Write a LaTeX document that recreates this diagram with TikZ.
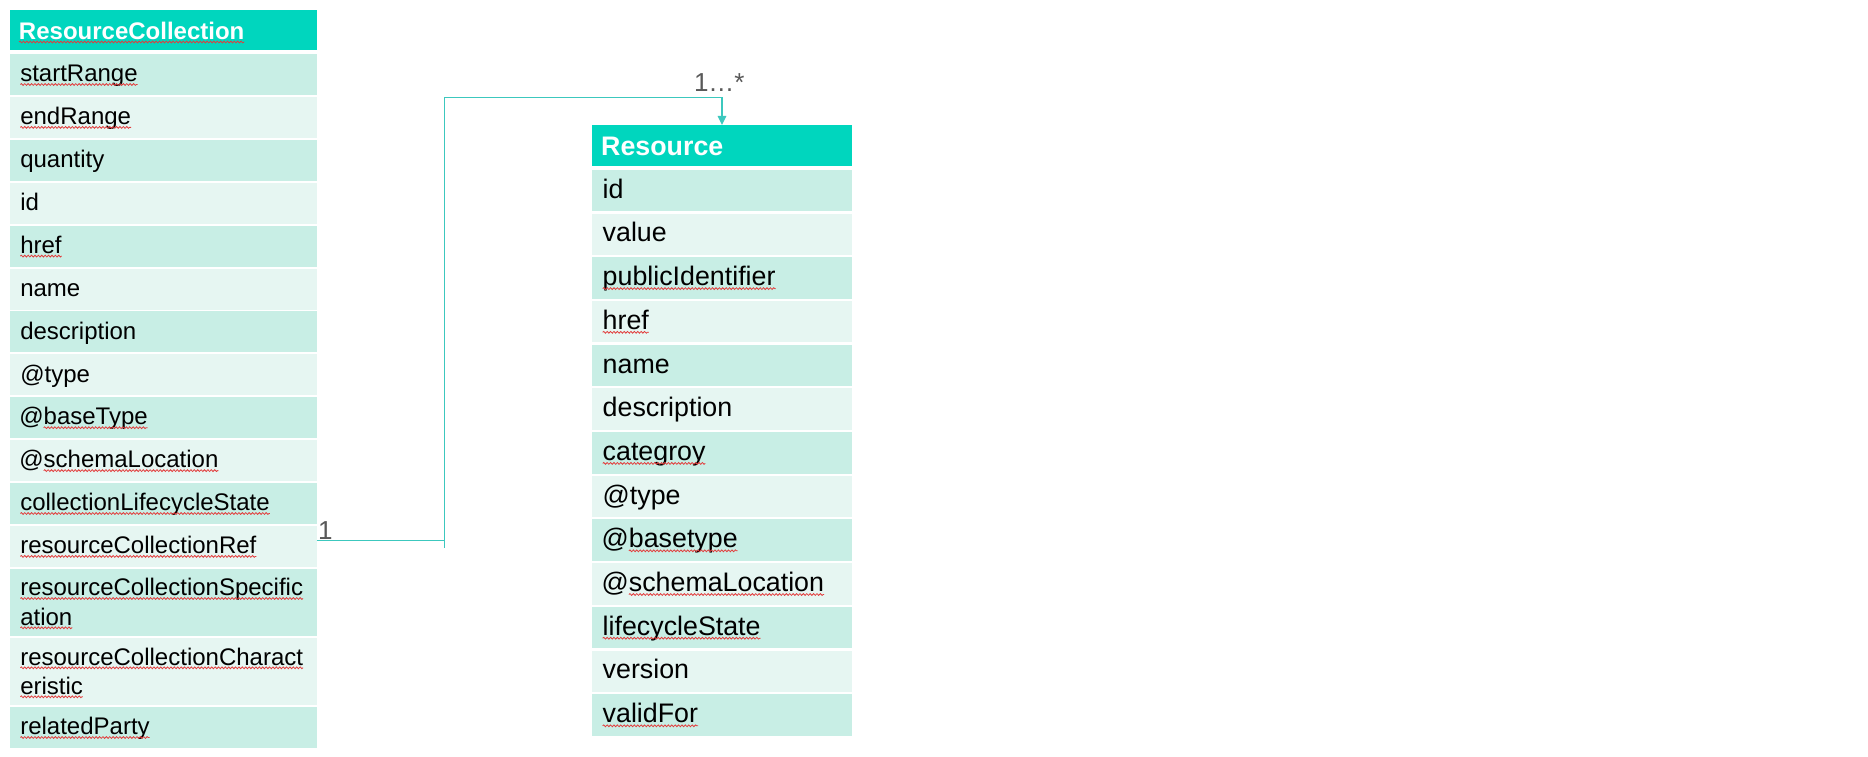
\documentclass[tikz,border=0pt]{standalone}
\usepackage{fontspec}
\setmainfont{Liberation Sans}
\usetikzlibrary{arrows.meta,decorations.pathmorphing}
\definecolor{headc}{RGB}{0,214,190}
\definecolor{darkrow}{RGB}{200,238,229}
\definecolor{lightrow}{RGB}{230,246,242}
\definecolor{linec}{RGB}{60,200,190}
\definecolor{labelc}{RGB}{89,89,89}
\definecolor{squigc}{RGB}{226,60,60}
\tikzset{
  rowbox/.style={anchor=north west, inner sep=0pt, outer sep=0pt, draw=none},
  txt/.style={inner sep=0pt, outer sep=0pt, anchor=base west, text=black},
  headtxt/.style={inner sep=0pt, outer sep=0pt, anchor=base west, text=white},
  squig/.style={draw=squigc, line width=0.8pt, decorate,
    decoration={snake, amplitude=0.9pt, segment length=3.4pt}},
  conn/.style={draw=linec, line width=1.5pt},
  mult/.style={inner sep=0pt, outer sep=0pt, anchor=base west, text=labelc,
    font=\fontsize{26}{30}\selectfont},
}
\newcommand\fldx{9.8pt}
\newcommand\fldul{2.8pt}
% #1 name, #2 row node, #3 baseline offset, #4 prefix (plain), #5 word
\newcommand\fldtext[5]{%
  \node[txt] (#1p) at ([xshift=\fldx, yshift=-#3pt]#2.north west) {#4};
  \node[txt] (#1) at (#1p.base east) {#5};}
\newcommand\fldtextu[5]{\fldtext{#1}{#2}{#3}{#4}{#5}%
  \draw[squig] ([yshift=-\fldul]#1.base west) -- ([yshift=-\fldul]#1.base east);}
\newcommand\fldrow[5]{% name, x, top, height, fill
  \node[rowbox, fill=#5, minimum width=\fldw, minimum height=#4] (#1) at (#2,#3) {};}
\newcommand\fldw{307.2}
\begin{document}
\begin{tikzpicture}[x=1pt,y=-1pt]
\useasboundingbox (0,0) rectangle (1868,757);
\fill[white] (0,0) rectangle (1868,757);

% ---------------- ResourceCollection ----------------
\begin{scope}[font=\fontsize{24}{29}\selectfont]
\renewcommand\fldw{307.2}
\fldrow{lh}{9.5}{10}{40}{headc}
\node[headtxt, font=\fontsize{24}{29}\selectfont\bfseries] (lht) at ([xshift=9.5pt, yshift=-30pt]lh.north west) {ResourceCollection};
\draw[squig] ([yshift=-2pt]lht.base west) -- ([yshift=-2pt]lht.base east);
\fldrow{l1}{9.5}{54}{41}{darkrow}
\fldrow{l2}{9.5}{96.9}{41}{lightrow}
\fldrow{l3}{9.5}{139.8}{41}{darkrow}
\fldrow{l4}{9.5}{182.7}{41}{lightrow}
\fldrow{l5}{9.5}{225.6}{41}{darkrow}
\fldrow{l6}{9.5}{268.5}{41}{lightrow}
\fldrow{l7}{9.5}{311.4}{41}{darkrow}
\fldrow{l8}{9.5}{354.3}{41}{lightrow}
\fldrow{l9}{9.5}{397.2}{41}{darkrow}
\fldrow{l10}{9.5}{440.1}{41}{lightrow}
\fldrow{l11}{9.5}{483}{41}{darkrow}
\fldrow{l12}{9.5}{525.9}{41}{lightrow}
\fldrow{l13}{9.5}{569}{67}{darkrow}
\fldrow{l14}{9.5}{638}{67}{lightrow}
\fldrow{l15}{9.5}{707}{41}{darkrow}
\fldtextu{t1}{l1}{27.7}{}{startRange}
\fldtextu{t2}{l2}{27.7}{}{endRange}
\fldtext{t3}{l3}{27.7}{}{quantity}
\fldtext{t4}{l4}{27.7}{}{id}
\fldtextu{t5}{l5}{27.7}{}{href}
\fldtext{t6}{l6}{27.7}{}{name}
\fldtext{t7}{l7}{27.7}{}{description}
\fldtext{t8}{l8}{27.7}{}{@type}
\fldtextu{t9}{l9}{27.7}{@}{baseType}
\fldtextu{t10}{l10}{27.7}{@}{schemaLocation}
\fldtextu{t11}{l11}{27.7}{}{collectionLifecycleState}
\fldtextu{t12}{l12}{27.7}{}{resourceCollectionRef}
\fldtextu{t13a}{l13}{26.7}{}{resourceCollectionSpecific}
\fldtextu{t13b}{l13}{56}{}{ation}
\fldtextu{t14a}{l14}{27}{}{resourceCollectionCharact}
\fldtextu{t14b}{l14}{56}{}{eristic}
\fldtextu{t15}{l15}{27.7}{}{relatedParty}
\end{scope}

% ---------------- Resource ----------------
\begin{scope}[font=\fontsize{26.8}{32}\selectfont]
\renewcommand\fldw{260.6}
\renewcommand\fldx{10pt}
\renewcommand\fldul{3pt}
\fldrow{rh}{591.7}{125}{40.7}{headc}
\node[headtxt, font=\fontsize{26.8}{32}\selectfont\bfseries] (rht) at ([xshift=9.5pt, yshift=-30pt]rh.north west) {Resource};
\fldrow{r1}{591.7}{169.8}{41.5}{darkrow}
\fldrow{r2}{591.7}{213.5}{41.5}{lightrow}
\fldrow{r3}{591.7}{257.2}{41.5}{darkrow}
\fldrow{r4}{591.7}{300.9}{41.5}{lightrow}
\fldrow{r5}{591.7}{344.6}{41.5}{darkrow}
\fldrow{r6}{591.7}{388.3}{41.5}{lightrow}
\fldrow{r7}{591.7}{432}{41.5}{darkrow}
\fldrow{r8}{591.7}{475.7}{41.5}{lightrow}
\fldrow{r9}{591.7}{519.4}{41.5}{darkrow}
\fldrow{r10}{591.7}{563.1}{41.5}{lightrow}
\fldrow{r11}{591.7}{606.8}{41.5}{darkrow}
\fldrow{r12}{591.7}{650.5}{41.5}{lightrow}
\fldrow{r13}{591.7}{694.4}{41.5}{darkrow}
\fldtext{s1}{r1}{28.4}{}{id}
\fldtext{s2}{r2}{28.4}{}{value}
\fldtextu{s3}{r3}{28.4}{}{publicIdentifier}
\fldtextu{s4}{r4}{28.4}{}{href}
\fldtext{s5}{r5}{28.4}{}{name}
\fldtext{s6}{r6}{28.4}{}{description}
\fldtextu{s7}{r7}{28.4}{}{categroy}
\fldtext{s8}{r8}{28.4}{}{@type}
\fldtextu{s9}{r9}{28.4}{@}{basetype}
\fldtextu{s10}{r10}{28.4}{@}{schemaLocation}
\fldtextu{s11}{r11}{28.4}{}{lifecycleState}
\fldtext{s12}{r12}{28.4}{}{version}
\fldtextu{s13}{r13}{28.4}{}{validFor}
\end{scope}

% ---------------- connector ----------------
\coordinate (cA) at (444.3,540.3);
\coordinate (cB) at (444.3,97.7);
\coordinate (cC) at (722,97.7);
\coordinate (cD) at (444.3,548);
\draw[conn, -{Triangle[length=9pt,width=8.5pt]}]
  (l12.east |- cA) -- (cA) -- (cB) -- (cC) -- (cC |- rh.north);
\draw[conn] (cA) -- (cD);
\node[mult] (m1) at (318,539.3) {1};
\node[mult] (m2) at (694,91.7) {1…*};
\end{tikzpicture}
\end{document}
